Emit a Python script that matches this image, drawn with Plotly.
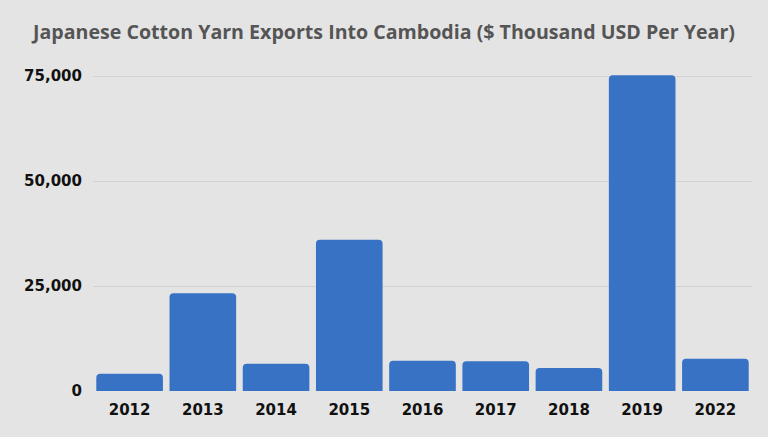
import plotly.graph_objects as go

# data
years = ["2012", "2013", "2014", "2015", "2016", "2017", "2018", "2019", "2022"]
exports_k_usd = [4100, 23300, 6500, 36000, 7200, 7100, 5500, 75200, 7700]
y_ticks = [0, 25000, 50000, 75000]
y_tick_labels = ["0", "25,000", "50,000", "75,000"]

BG = "#e4e4e4"
BAR = "#3772c4"
TICK_FONT = dict(family="DejaVu Sans", size=15, color="#111111", weight="bold")

fig = go.Figure()
fig.add_trace(go.Bar(
    x=years,
    y=exports_k_usd,
    marker=dict(color=BAR, line=dict(width=0)),
    hoverinfo="x+y",
))

fig.update_layout(
    width=768,
    height=437,
    paper_bgcolor=BG,
    plot_bgcolor=BG,
    margin=dict(l=93, r=16, t=74, b=46),
    bargap=0.09,
    barcornerradius=4,
    showlegend=False,
    title=dict(
        text="<b>Japanese Cotton Yarn Exports Into Cambodia ($ Thousand USD Per Year)</b>",
        x=0.5,
        xanchor="center",
        y=0.926,
        yanchor="middle",
        font=dict(family="Open Sans", size=19.6, color="#555555"),
    ),
    font=dict(family="Open Sans"),
)

fig.update_xaxes(
    type="category",
    showgrid=False,
    showline=False,
    ticks="",
    ticklabelstandoff=8,
    tickfont=TICK_FONT,
)
fig.update_yaxes(
    range=[0, 75500],
    tickvals=y_ticks,
    ticktext=y_tick_labels,
    showgrid=True,
    gridcolor="#d2d2d2",
    gridwidth=1,
    zeroline=False,
    showline=False,
    ticks="",
    ticklabelstandoff=10,
    tickfont=TICK_FONT,
)

# drop the browser's default page margin so the figure fills the window
page_css = "document.body.style.margin='0';document.body.style.background='%s';" % BG

fig.write_html("out.html", config={"displayModeBar": False}, post_script=page_css)
